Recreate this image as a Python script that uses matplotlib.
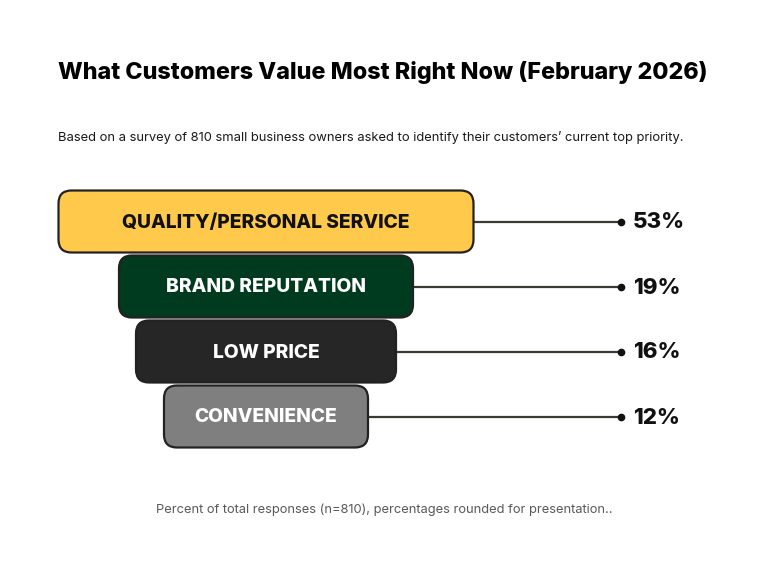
import matplotlib
matplotlib.use("Agg")
import matplotlib.pyplot as plt
from matplotlib.patches import FancyBboxPatch

# ---- data ----
categories = ["QUALITY/PERSONAL SERVICE", "BRAND REPUTATION", "LOW PRICE", "CONVENIENCE"]
values = [53, 19, 16, 12]
value_labels = [f"{v}%" for v in values]

title = "What Customers Value Most Right Now (February 2026)"
subtitle = "Based on a survey of 810 small business owners asked to identify their customers\u2019 current top priority."
footnote = "Percent of total responses (n=810), percentages rounded for presentation.."

# ---- styles ----
box_widths = [415, 294, 260, 204]
fill_colors = ["#FFC94B", "#003A1F", "#262626", "#7F7F7F"]
text_colors = ["#111111", "#FFFFFF", "#FFFFFF", "#FFFFFF"]
FONT = ["Inter", "DejaVu Sans"]

fig = plt.figure(figsize=(7.68, 5.76), dpi=100)
ax = fig.add_axes([0, 0, 1, 1])
ax.set_xlim(0, 768)
ax.set_ylim(576, 0)
ax.axis("off")

center_x = 266
first_y = 221.5
step = 65
box_h = 62
dot_x = 621

for i, (cat, lab) in enumerate(zip(categories, value_labels)):
    cy = first_y + i * step
    w = box_widths[i]
    x0 = center_x - w / 2
    # connector line
    ax.plot([x0 + w, dot_x], [cy, cy], color="#3a3a32", lw=1.6, zorder=1,
            solid_capstyle="butt")
    ax.plot([dot_x], [cy], "o", color="#111111", ms=4.5, zorder=3)
    box = FancyBboxPatch((x0, cy - box_h / 2), w, box_h,
                         boxstyle="round,pad=0,rounding_size=13",
                         facecolor=fill_colors[i], edgecolor="#222222",
                         lw=1.6, zorder=2)
    ax.add_patch(box)
    ax.text(center_x, cy + 1, cat, ha="center", va="center",
            fontsize=13.8, fontweight="heavy", color=text_colors[i],
            family=FONT, zorder=4)
    ax.text(633, cy + 1, lab, ha="left", va="center", fontsize=16,
            fontweight="heavy", color="#111111", family=FONT, zorder=4)

ax.text(58, 73, title, ha="left", va="center", fontsize=16.8,
        fontweight="heavy", color="#000000", family=FONT)
ax.text(58, 138, subtitle, ha="left", va="center", fontsize=9.35,
        color="#1a1a1a", family=FONT)
ax.text(384, 510, footnote, ha="center", va="center", fontsize=9.3,
        color="#5a5a5a", family=FONT)

fig.savefig("out.png", dpi=100, facecolor="white")
